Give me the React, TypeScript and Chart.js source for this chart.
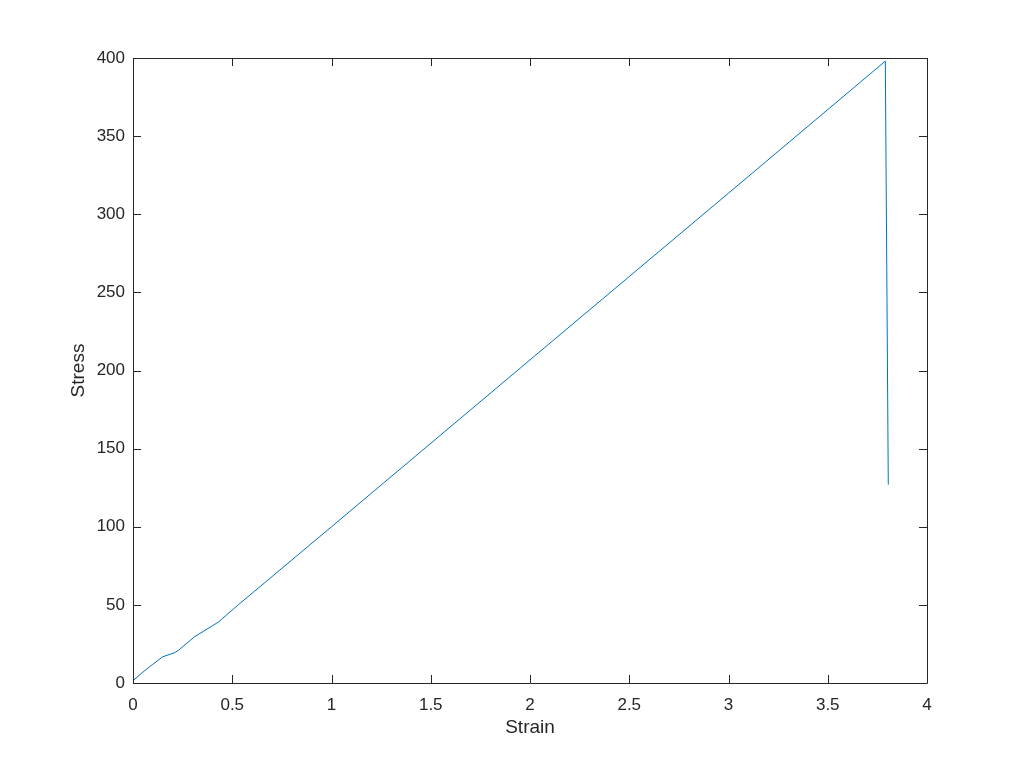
import React, { useEffect, useRef } from "react";
import { Chart, registerables } from "chart.js";

Chart.register(...registerables);

const strain = [0, 0.05, 0.1, 0.15, 0.21, 0.23, 0.31, 0.43, 0.53, 1.0, 2.0, 3.0, 3.79, 3.805];
const stress = [1.5, 7, 12, 16.8, 19.4, 21, 29.6, 39, 50, 100, 206.8, 313.5, 398, 127];
const xTicks = [0, 0.5, 1, 1.5, 2, 2.5, 3, 3.5, 4];
const yTicks = [0, 50, 100, 150, 200, 250, 300, 350, 400];

const AXIS = "#262626";
const FONT = "'Liberation Sans', Arial, Helvetica, sans-serif";

const boxPlugin = {
  id: "matlabBox",
  afterDraw(chart: any) {
    const { ctx, chartArea } = chart;
    const { left, right, top, bottom } = chartArea;
    const xs = chart.scales.x;
    const ys = chart.scales.y;
    const tl = 8;
    ctx.save();
    ctx.strokeStyle = AXIS;
    ctx.lineWidth = 1;
    ctx.beginPath();
    ctx.rect(Math.round(left) + 0.5, Math.round(top) + 0.5, Math.round(right - left), Math.round(bottom - top));
    for (const v of xTicks) {
      const px = Math.round(xs.getPixelForValue(v)) + 0.5;
      ctx.moveTo(px, bottom);
      ctx.lineTo(px, bottom - tl);
      ctx.moveTo(px, top);
      ctx.lineTo(px, top + tl);
    }
    for (const v of yTicks) {
      const py = Math.round(ys.getPixelForValue(v)) + 0.5;
      ctx.moveTo(left, py);
      ctx.lineTo(left + tl, py);
      ctx.moveTo(right, py);
      ctx.lineTo(right - tl, py);
    }
    ctx.stroke();
    ctx.restore();
  },
};

export default function App() {
  const ref = useRef<HTMLCanvasElement | null>(null);

  useEffect(() => {
    document.body.style.margin = "0";
    const canvas = ref.current;
    if (!canvas) return;
    const data = strain.map((x, i) => ({ x, y: stress[i] }));
    const chart = new Chart(canvas, {
      type: "scatter",
      data: {
        datasets: [
          {
            data,
            showLine: true,
            borderColor: "#0072BD",
            borderWidth: 1,
            pointRadius: 0,
            fill: false,
            tension: 0,
          },
        ],
      },
      options: {
        animation: false,
        responsive: false,
        devicePixelRatio: 1,
        layout: { padding: { top: 58, right: 97, bottom: 0, left: 0 } },
        plugins: { legend: { display: false }, tooltip: { enabled: false } },
        scales: {
          x: {
            type: "linear",
            min: 0,
            max: 4,
            afterFit: (s: any) => {
              s.height = 85;
            },
            afterBuildTicks: (s: any) => {
              s.ticks = xTicks.map((v) => ({ value: v }));
            },
            grid: { display: false, drawTicks: false },
            border: { display: false },
            ticks: {
              color: AXIS,
              font: { family: FONT, size: 17 },
              padding: 12,
              maxRotation: 0,
              callback: (v: any) => String(v),
            },
            title: {
              display: true,
              text: "Strain",
              color: AXIS,
              font: { family: FONT, size: 19 },
              padding: { top: 0, bottom: 29 },
            },
          },
          y: {
            type: "linear",
            min: 0,
            max: 400,
            afterFit: (s: any) => {
              s.width = 133;
            },
            afterBuildTicks: (s: any) => {
              s.ticks = yTicks.map((v) => ({ value: v }));
            },
            grid: { display: false, drawTicks: false },
            border: { display: false },
            ticks: {
              color: AXIS,
              font: { family: FONT, size: 17 },
              padding: 8,
              callback: (v: any) => String(v),
            },
            title: {
              display: true,
              text: "Stress",
              color: AXIS,
              font: { family: FONT, size: 19 },
              padding: { top: 67, bottom: 0 },
            },
          },
        },
      },
      plugins: [boxPlugin],
    });
    return () => chart.destroy();
  }, []);

  return (
    <div style={{ position: "absolute", left: 0, top: 0, width: 1024, height: 768, background: "#fff" }}>
      <canvas ref={ref} width={1024} height={768} style={{ width: 1024, height: 768, display: "block" }} />
    </div>
  );
}
